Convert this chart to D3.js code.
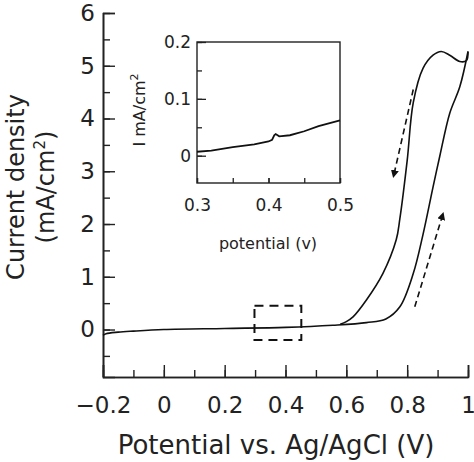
<!DOCTYPE html>
<html><head><meta charset="utf-8">
<script src="https://cdn.jsdelivr.net/npm/d3@7"></script>
<style>body{margin:0;background:#fff}text{font-family:"DejaVu Sans",sans-serif;fill:#222}</style>
</head><body><svg id="c" width="474" height="462"></svg>
<script>
// forward scan (lower branch), V vs mA/cm2
const fwdV = [-0.2, -0.19, -0.15, -0.1, 0, 0.2, 0.4, 0.556, 0.666, 0.73, 0.776, 0.82, 0.852, 0.885, 0.907, 0.94, 0.973, 1.0];
const fwdI = [-0.11, -0.08, -0.05, -0.03, 0, 0.02, 0.04, 0.08, 0.13, 0.2, 0.43, 1.06, 1.8, 2.7, 3.28, 4.1, 4.6, 5.27];
// reverse scan (upper branch)
const revV = [1.0, 0.995, 0.973, 0.94, 0.912, 0.885, 0.852, 0.82, 0.8, 0.776, 0.764, 0.72, 0.666, 0.622, 0.6, 0.58];
const revI = [5.27, 5.1, 5.08, 5.2, 5.27, 5.2, 4.95, 4.3, 3.2, 2.1, 1.7, 1.06, 0.56, 0.24, 0.15, 0.1];
// inset zoom 0.3-0.5 V
const insV = [0.3, 0.32, 0.35, 0.38, 0.4, 0.405, 0.408, 0.41, 0.415, 0.43, 0.45, 0.47, 0.5];
const insI = [0.007, 0.009, 0.015, 0.02, 0.025, 0.028, 0.036, 0.038, 0.034, 0.036, 0.043, 0.052, 0.062];
const xTicks = [-0.2, 0, 0.2, 0.4, 0.6, 0.8, 1];
const yTicks = [0, 1, 2, 3, 4, 5, 6];
const insXTicks = [0.3, 0.4, 0.5];
const insYTicks = [0, 0.1, 0.2];

const svg = d3.select("#c");
const x = d3.scaleLinear().domain([-0.2, 1]).range([103, 468]);
const y = d3.scaleLinear().domain([-0.9, 6]).range([377, 13]);
const fmt = d => d < 0 ? "\u2212" + Math.abs(d) : String(d);

const gx = svg.append("g").attr("transform", "translate(0,377)")
  .call(d3.axisBottom(x).tickValues(d3.range(-0.2, 1.001, 0.1)).tickSize(-7).tickFormat(""));
gx.append("g").call(d3.axisBottom(x).tickValues(xTicks).tickSize(-12).tickPadding(20).tickFormat(fmt));
const gy = svg.append("g").attr("transform", "translate(103,0)")
  .call(d3.axisLeft(y).tickValues(d3.range(-0.5, 6.01, 0.5)).tickSize(-7).tickFormat(""));
gy.append("g").call(d3.axisLeft(y).tickValues(yTicks).tickSize(-12).tickPadding(8).tickFormat(fmt));
svg.selectAll(".domain").attr("stroke-width", 1.6).attr("stroke", "#222");
svg.selectAll(".tick line").attr("stroke-width", 1.4).attr("stroke", "#222");
svg.selectAll(".tick text").style("font-size", "23px").attr("fill", "#222");
gy.select("path.domain").attr("d", "M0.5,13V377");
gx.select("path.domain").attr("d", "M103,0.5H468");

const lineB = d3.line().x(d => x(d[0])).y(d => y(d[1])).curve(d3.curveCatmullRom);
svg.append("path").attr("d", lineB(fwdV.map((v, i) => [v, fwdI[i]])))
  .attr("fill", "none").attr("stroke", "#111").attr("stroke-width", 1.6);
svg.append("path").attr("d", lineB(revV.map((v, i) => [v, revI[i]])))
  .attr("fill", "none").attr("stroke", "#111").attr("stroke-width", 1.6);

// dashed zoom box
svg.append("rect").attr("x", x(0.298)).attr("y", y(0.45)).attr("width", x(0.452) - x(0.298)).attr("height", y(-0.2) - y(0.45))
  .attr("fill", "none").attr("stroke", "#111").attr("stroke-width", 2).attr("stroke-dasharray", "9,6");

// arrows
svg.append("defs").append("marker").attr("id", "ah").attr("viewBox", "0 0 10 10").attr("refX", 8).attr("refY", 5)
  .attr("markerWidth", 5).attr("markerHeight", 5).attr("orient", "auto")
  .append("path").attr("d", "M0,0L10,5L0,10z").attr("fill", "#111");
[[0.82, 4.55, 0.755, 2.9], [0.825, 0.43, 0.918, 2.2]].forEach(a => {
  svg.append("line").attr("x1", x(a[0])).attr("y1", y(a[1])).attr("x2", x(a[2])).attr("y2", y(a[3]))
    .attr("stroke", "#111").attr("stroke-width", 1.6).attr("stroke-dasharray", "6,4").attr("marker-end", "url(#ah)");
});

svg.append("text").attr("x", 276).attr("y", 454).attr("text-anchor", "middle").style("font-size", "26px")
  .text("Potential vs. Ag/AgCl (V)");
const yl = svg.append("text").attr("transform", "translate(0,187) rotate(-90)").attr("text-anchor", "middle").style("font-size", "24px");
yl.append("tspan").attr("x", 0).attr("y", 24).text("Current density");
const t2 = yl.append("tspan").attr("x", 0).attr("y", 54).text("(mA/cm");
t2.append("tspan").attr("dy", -9).style("font-size", "15px").text("2");
t2.append("tspan").attr("dy", 9).text(")");

// inset
const ix = d3.scaleLinear().domain([0.3, 0.5]).range([197, 340]);
const iy = d3.scaleLinear().domain([-0.048, 0.2]).range([183, 42]);
const ins = svg.append("g");
ins.append("rect").attr("x", 197).attr("y", 42).attr("width", 143).attr("height", 141)
  .attr("fill", "#fff").attr("stroke", "#222").attr("stroke-width", 1.4);
const ixg = ins.append("g").attr("transform", "translate(0,183)")
  .call(d3.axisBottom(ix).tickValues(d3.range(0.3, 0.501, 0.05)).tickSize(-5).tickFormat(""));
ixg.append("g").call(d3.axisBottom(ix).tickValues(insXTicks).tickSize(-5).tickPadding(16).tickFormat(d3.format(".1f")));
const iyg = ins.append("g").attr("transform", "translate(197,0)")
  .call(d3.axisLeft(iy).tickValues(d3.range(0, 0.201, 0.05)).tickSize(-5).tickFormat(""));
iyg.append("g").call(d3.axisLeft(iy).tickValues(insYTicks).tickSize(-9).tickPadding(6).tickFormat(d => d === 0 ? "0" : d3.format(".1f")(d)));
ins.selectAll(".domain").remove();
ins.selectAll(".tick line").attr("stroke-width", 1.3).attr("stroke", "#222");
ins.selectAll(".tick text").style("font-size", "17px").attr("fill", "#222");
ins.append("path").attr("d", d3.line().x(d => ix(d[0])).y(d => iy(d[1]))(insV.map((v, i) => [v, insI[i]])))
  .attr("fill", "none").attr("stroke", "#111").attr("stroke-width", 1.8);
ins.append("text").attr("x", 268).attr("y", 249).attr("text-anchor", "middle").style("font-size", "16px").text("potential (v)");
const il = ins.append("text").attr("transform", "translate(145,110) rotate(-90)").attr("text-anchor", "middle").style("font-size", "16px");
il.append("tspan").text("I mA/cm");
il.append("tspan").attr("dy", -7).style("font-size", "11px").text("2");
</script></body></html>
